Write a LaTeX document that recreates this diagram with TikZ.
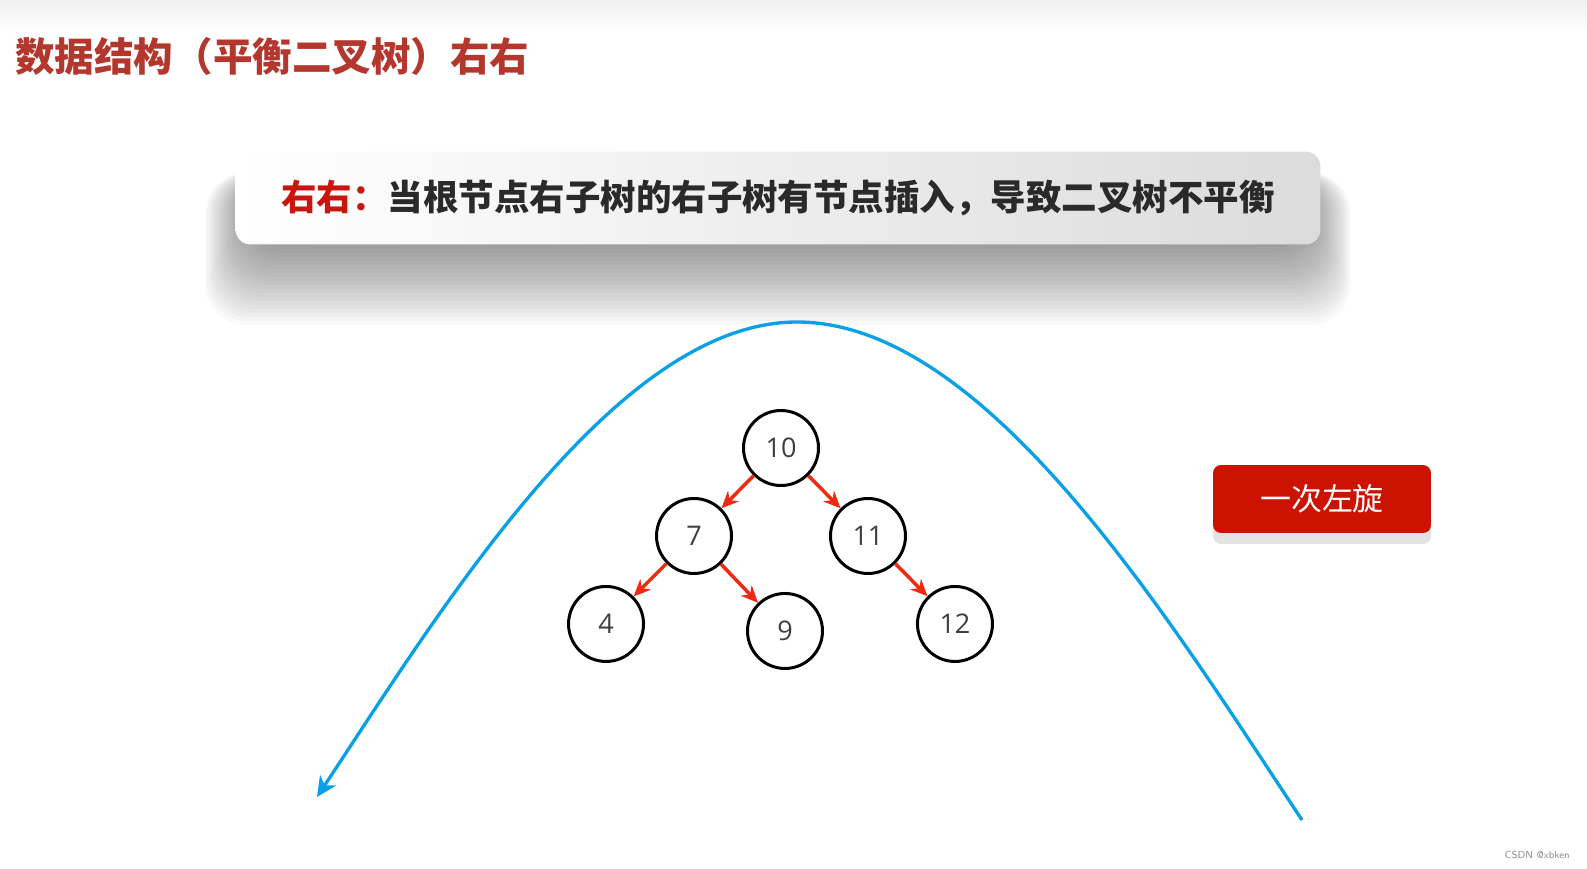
\documentclass[tikz,border=0pt]{standalone}
\usepackage{fontspec}
\setmainfont{Open Sans}
\newfontfamily\cjk{Noto Sans CJK SC}
\usepackage{xcolor}
\usetikzlibrary{arrows.meta}
\usetikzlibrary{backgrounds}
\usetikzlibrary{calc}
\usetikzlibrary{positioning}
\usetikzlibrary{shadows}

\definecolor{titlered}{HTML}{B4372D}
\definecolor{rulered}{HTML}{C8160E}
\definecolor{btnred}{HTML}{CC1200}
\definecolor{edgered}{HTML}{EE2A12}
\definecolor{arcblue}{HTML}{0AA0E6}
\definecolor{ink}{HTML}{2A2A2A}

\begin{document}
\begin{tikzpicture}
  [
    x = 0.02cm, y = -0.02cm,
    node distance = 1.76cm,
    vertex/.style = {circle, draw, line width = 1.7pt, fill = white,
                     minimum size = 1.5cm, inner sep = 0pt,
                     font = \fontsize{15.4}{16}\selectfont, text = ink!90},
    title/.style = {anchor = west, inner sep = 0pt, text = titlered,
                    font = \cjk\bfseries\fontsize{22.5}{24}\selectfont},
    banner/.style = {rectangle, rounded corners = 0.3cm, left color = white,
                     right color = black!14, minimum width = 21.7cm,
                     minimum height = 1.86cm, text = ink,
                     font = \cjk\bfseries\fontsize{20.2}{22}\selectfont},
    button/.style = {rectangle, rounded corners = 0.16cm, fill = btnred,
                     minimum width = 4.36cm, minimum height = 1.36cm,
                     text = white, font = \cjk\fontsize{17.6}{19}\selectfont,
                     drop shadow = {shadow xshift = 0cm, shadow yshift = -0.22cm,
                                    fill = black!11, opacity = 1}},
    creditlabel/.style = {text = black!45, font = \sffamily\fontsize{5.8}{6}\selectfont},
    arrow/.style = {> = {Stealth[length = 0.34cm, width = 0.3cm]}, line width = 2pt},
    arrow-in/.style = {arrow, <-, draw = edgered},
    arc/.style = {draw = arcblue, line width = 1.9pt,
                  -{Stealth[length = 0.4cm, width = 0.38cm, inset = 0.12cm]}},
  ]
  \useasboundingbox (0,0) rectangle (1587,869);
  \shade[top color = black!6, bottom color = white] (0,0) rectangle (1587,32);

  % heading and rule
  \node[title] (head) at (15,56) {数据结构（平衡二叉树）右右};
  \node[banner] (rule) at (778,198) {{\color{rulered}右右：}当根节点右子树的右子树有节点插入，导致二叉树不平衡};
  \begin{scope}[on background layer]
    \foreach \k in {0,...,19}
      \fill[black, opacity = 0.024, rounded corners = 0.8cm]
        ($(rule.north west)+(8-2*\k,22)$) rectangle ($(rule.south east)+(-8+2*\k,4+4*\k)$);
  \end{scope}

  % tree
  \node[vertex] (n10) at (781,448) {10};
  \node[vertex] [below of = n10, xshift = -1.74cm] (n7) {7}
      edge [arrow-in] (n10);
  \node[vertex] [below of = n10, xshift = 1.74cm] (n11) {11}
      edge [arrow-in] (n10);
  \node[vertex] [below of = n7, xshift = -1.76cm] (n4) {4}
      edge [arrow-in] (n7);
  \node[vertex] [below of = n7, xshift = 1.82cm, yshift = -0.14cm] (n9) {9}
      edge [arrow-in] (n7);
  \node[vertex] [below of = n11, xshift = 1.74cm] (n12) {12}
      edge [arrow-in] (n11);

  % rotation arc
  \coordinate (arcR) at (1302,820);
  \coordinate (arcTop) at (797,322);
  \coordinate (arcL) at (317,797);
  \draw[arc] (arcR) .. controls (1170,621) and (987,322) .. (arcTop)
                    .. controls (617,322) and (443,606) .. (arcL);

  \node[button] (rotate) at (1322,499) {一次左旋};
  \node[creditlabel, anchor = east] (credit) at (1576,855) {CSDN @xbken};
\end{tikzpicture}
\end{document}
